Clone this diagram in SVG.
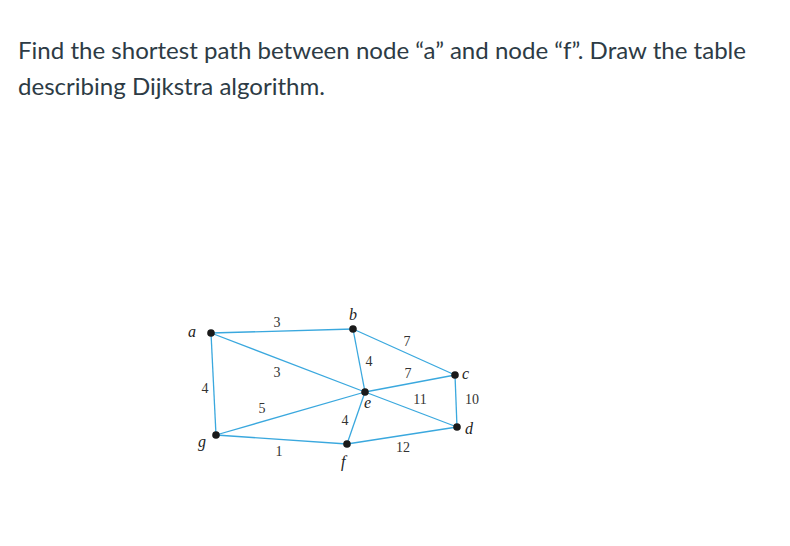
<svg xmlns="http://www.w3.org/2000/svg" width="790" height="546" viewBox="0 0 790 546">
<style>
.t{font-family:Lato,"Liberation Sans",sans-serif;font-size:23px;fill:#2d3b45}
.e{stroke:#3aa8de;stroke-width:1.3;fill:none}
.n{fill:#1a1a1a}
.l{font-family:"Liberation Serif",serif;font-style:italic;font-size:16px;fill:#222}
.w{font-family:"Liberation Serif",serif;font-size:14px;fill:#333;text-anchor:middle}
</style>
<rect width="790" height="546" fill="#fff"/>
<text class="t" x="18" y="59" textLength="728" lengthAdjust="spacingAndGlyphs">Find the shortest path between node “a” and node “f”. Draw the table</text>
<text class="t" x="18" y="95" textLength="307" lengthAdjust="spacingAndGlyphs">describing Dijkstra algorithm.</text>
<g id="edges">
<line class="e" x1="211" y1="333" x2="353" y2="329"/>
<line class="e" x1="211" y1="333" x2="365" y2="392"/>
<line class="e" x1="211" y1="333" x2="216" y2="435"/>
<line class="e" x1="353" y1="329" x2="455" y2="375"/>
<line class="e" x1="353" y1="329" x2="365" y2="392"/>
<line class="e" x1="365" y1="392" x2="455" y2="375"/>
<line class="e" x1="365" y1="392" x2="457" y2="427"/>
<line class="e" x1="365" y1="392" x2="216" y2="435"/>
<line class="e" x1="365" y1="392" x2="347" y2="444"/>
<line class="e" x1="455" y1="375" x2="457" y2="427"/>
<line class="e" x1="216" y1="435" x2="347" y2="444"/>
<line class="e" x1="347" y1="444" x2="457" y2="427"/>
</g>
<g class="w">
<text x="277" y="327">3</text><text x="407" y="346">7</text><text x="369" y="366">4</text>
<text x="277" y="377">3</text><text x="408" y="378">7</text><text x="205" y="393">4</text>
<text x="420" y="404">11</text><text x="472" y="404">10</text><text x="262" y="413">5</text>
<text x="345" y="425">4</text><text x="279" y="456">1</text><text x="403" y="452">12</text>
</g>
<g id="node-a"><circle class="n" cx="211" cy="333" r="3.8"/><text class="l" x="188" y="337">a</text></g>
<g id="node-b"><circle class="n" cx="353" cy="329" r="3.8"/><text class="l" x="349" y="320">b</text></g>
<g id="node-c"><circle class="n" cx="455" cy="375" r="3.8"/><text class="l" x="462" y="379">c</text></g>
<g id="node-d"><circle class="n" cx="457" cy="427" r="3.8"/><text class="l" x="465" y="434">d</text></g>
<g id="node-e"><circle class="n" cx="365" cy="392" r="3.8"/><text class="l" x="364" y="408">e</text></g>
<g id="node-f"><circle class="n" cx="347" cy="444" r="3.8"/><text class="l" x="341" y="467">f</text></g>
<g id="node-g"><circle class="n" cx="216" cy="435" r="3.8"/><text class="l" x="198" y="447">g</text></g>
</svg>
